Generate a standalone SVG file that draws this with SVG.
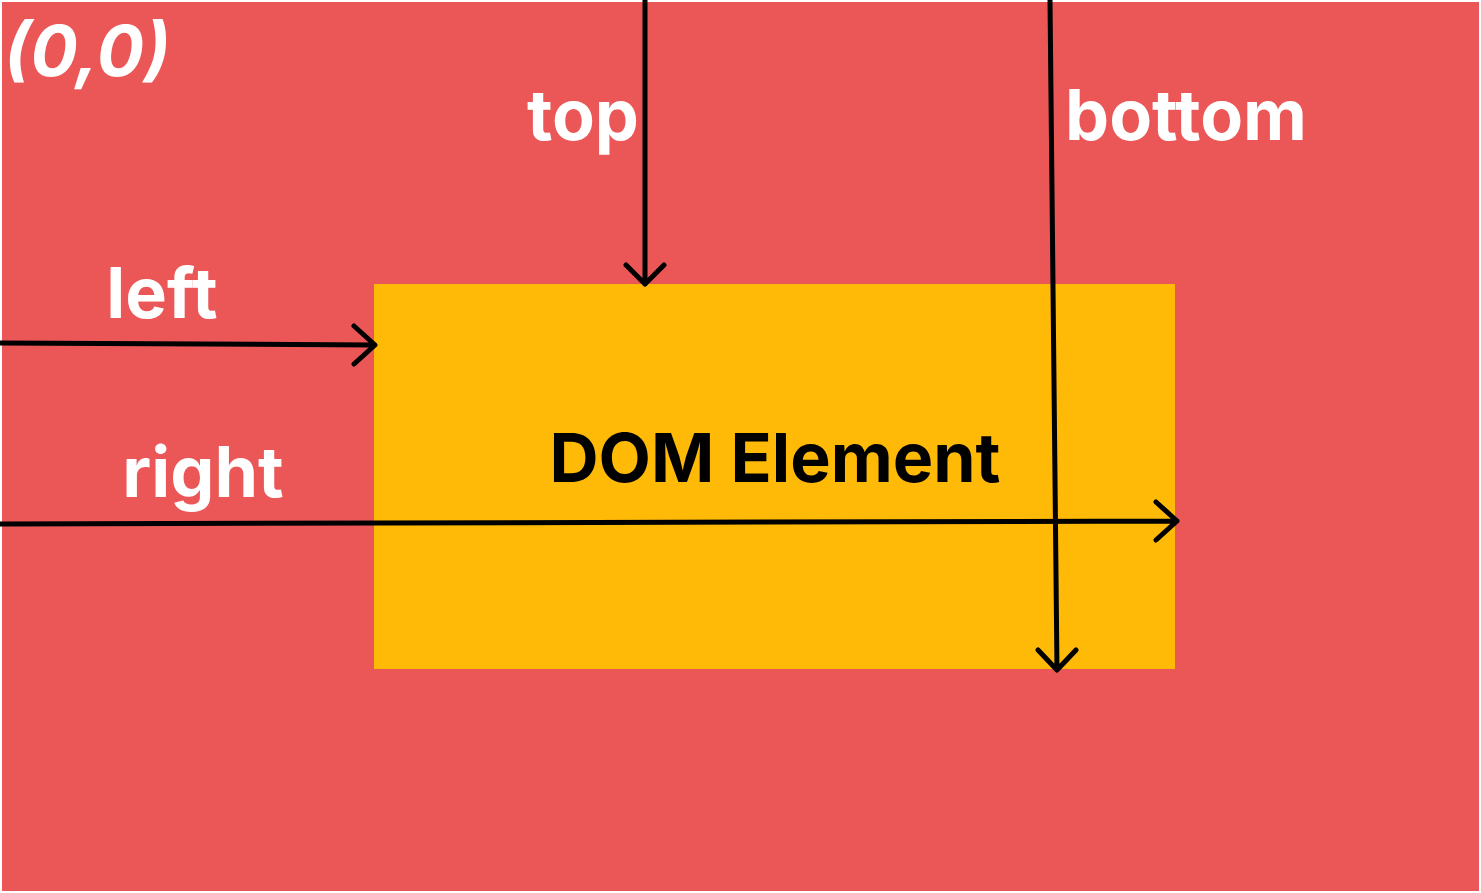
<svg xmlns="http://www.w3.org/2000/svg" width="1481" height="893" viewBox="0 0 1481 893">
<style>
.lbl{font-family:Inter,"Liberation Sans",sans-serif;font-weight:700;fill:#fff;font-size:70px}
.ln{stroke:#000;stroke-width:5;fill:none;stroke-linecap:round;stroke-linejoin:round}
</style>
<rect x="0" y="0" width="1481" height="893" fill="#fff"/>
<rect x="2" y="2" width="1477" height="889" fill="#EB5757"/>
<g id="origin"><text x="4" y="76" class="lbl" font-size="62" font-style="italic" font-family="'Open Sans',sans-serif">(0,0)</text></g>
<g id="dom-element">
<rect x="374" y="284" width="801" height="385" fill="#FFB907"/>
<text x="775" y="482" text-anchor="middle" font-family="Inter,'Liberation Sans',sans-serif" font-weight="700" font-size="68" fill="#000">DOM Element</text>
</g>
<g id="labels">
<text x="583" y="140" class="lbl" text-anchor="middle">top</text>
<text x="1186" y="140" class="lbl" text-anchor="middle">bottom</text>
<text x="162" y="318" class="lbl" text-anchor="middle">left</text>
<text x="203" y="497" class="lbl" text-anchor="middle">right</text>
</g>
<g id="connectors">
<path class="ln" d="M0 343 L375 345 M354 326 L375 345 L354 364"/>
<path class="ln" d="M645 0 L645 284 M626 265 L645 284 L664 265"/>
<path class="ln" d="M1050 0 L1057 670 M1038 650 L1057 670 L1076 650"/>
<path class="ln" d="M0 524 L1177 521 M1156 502 L1177 521 L1156 540"/>
</g>
</svg>
